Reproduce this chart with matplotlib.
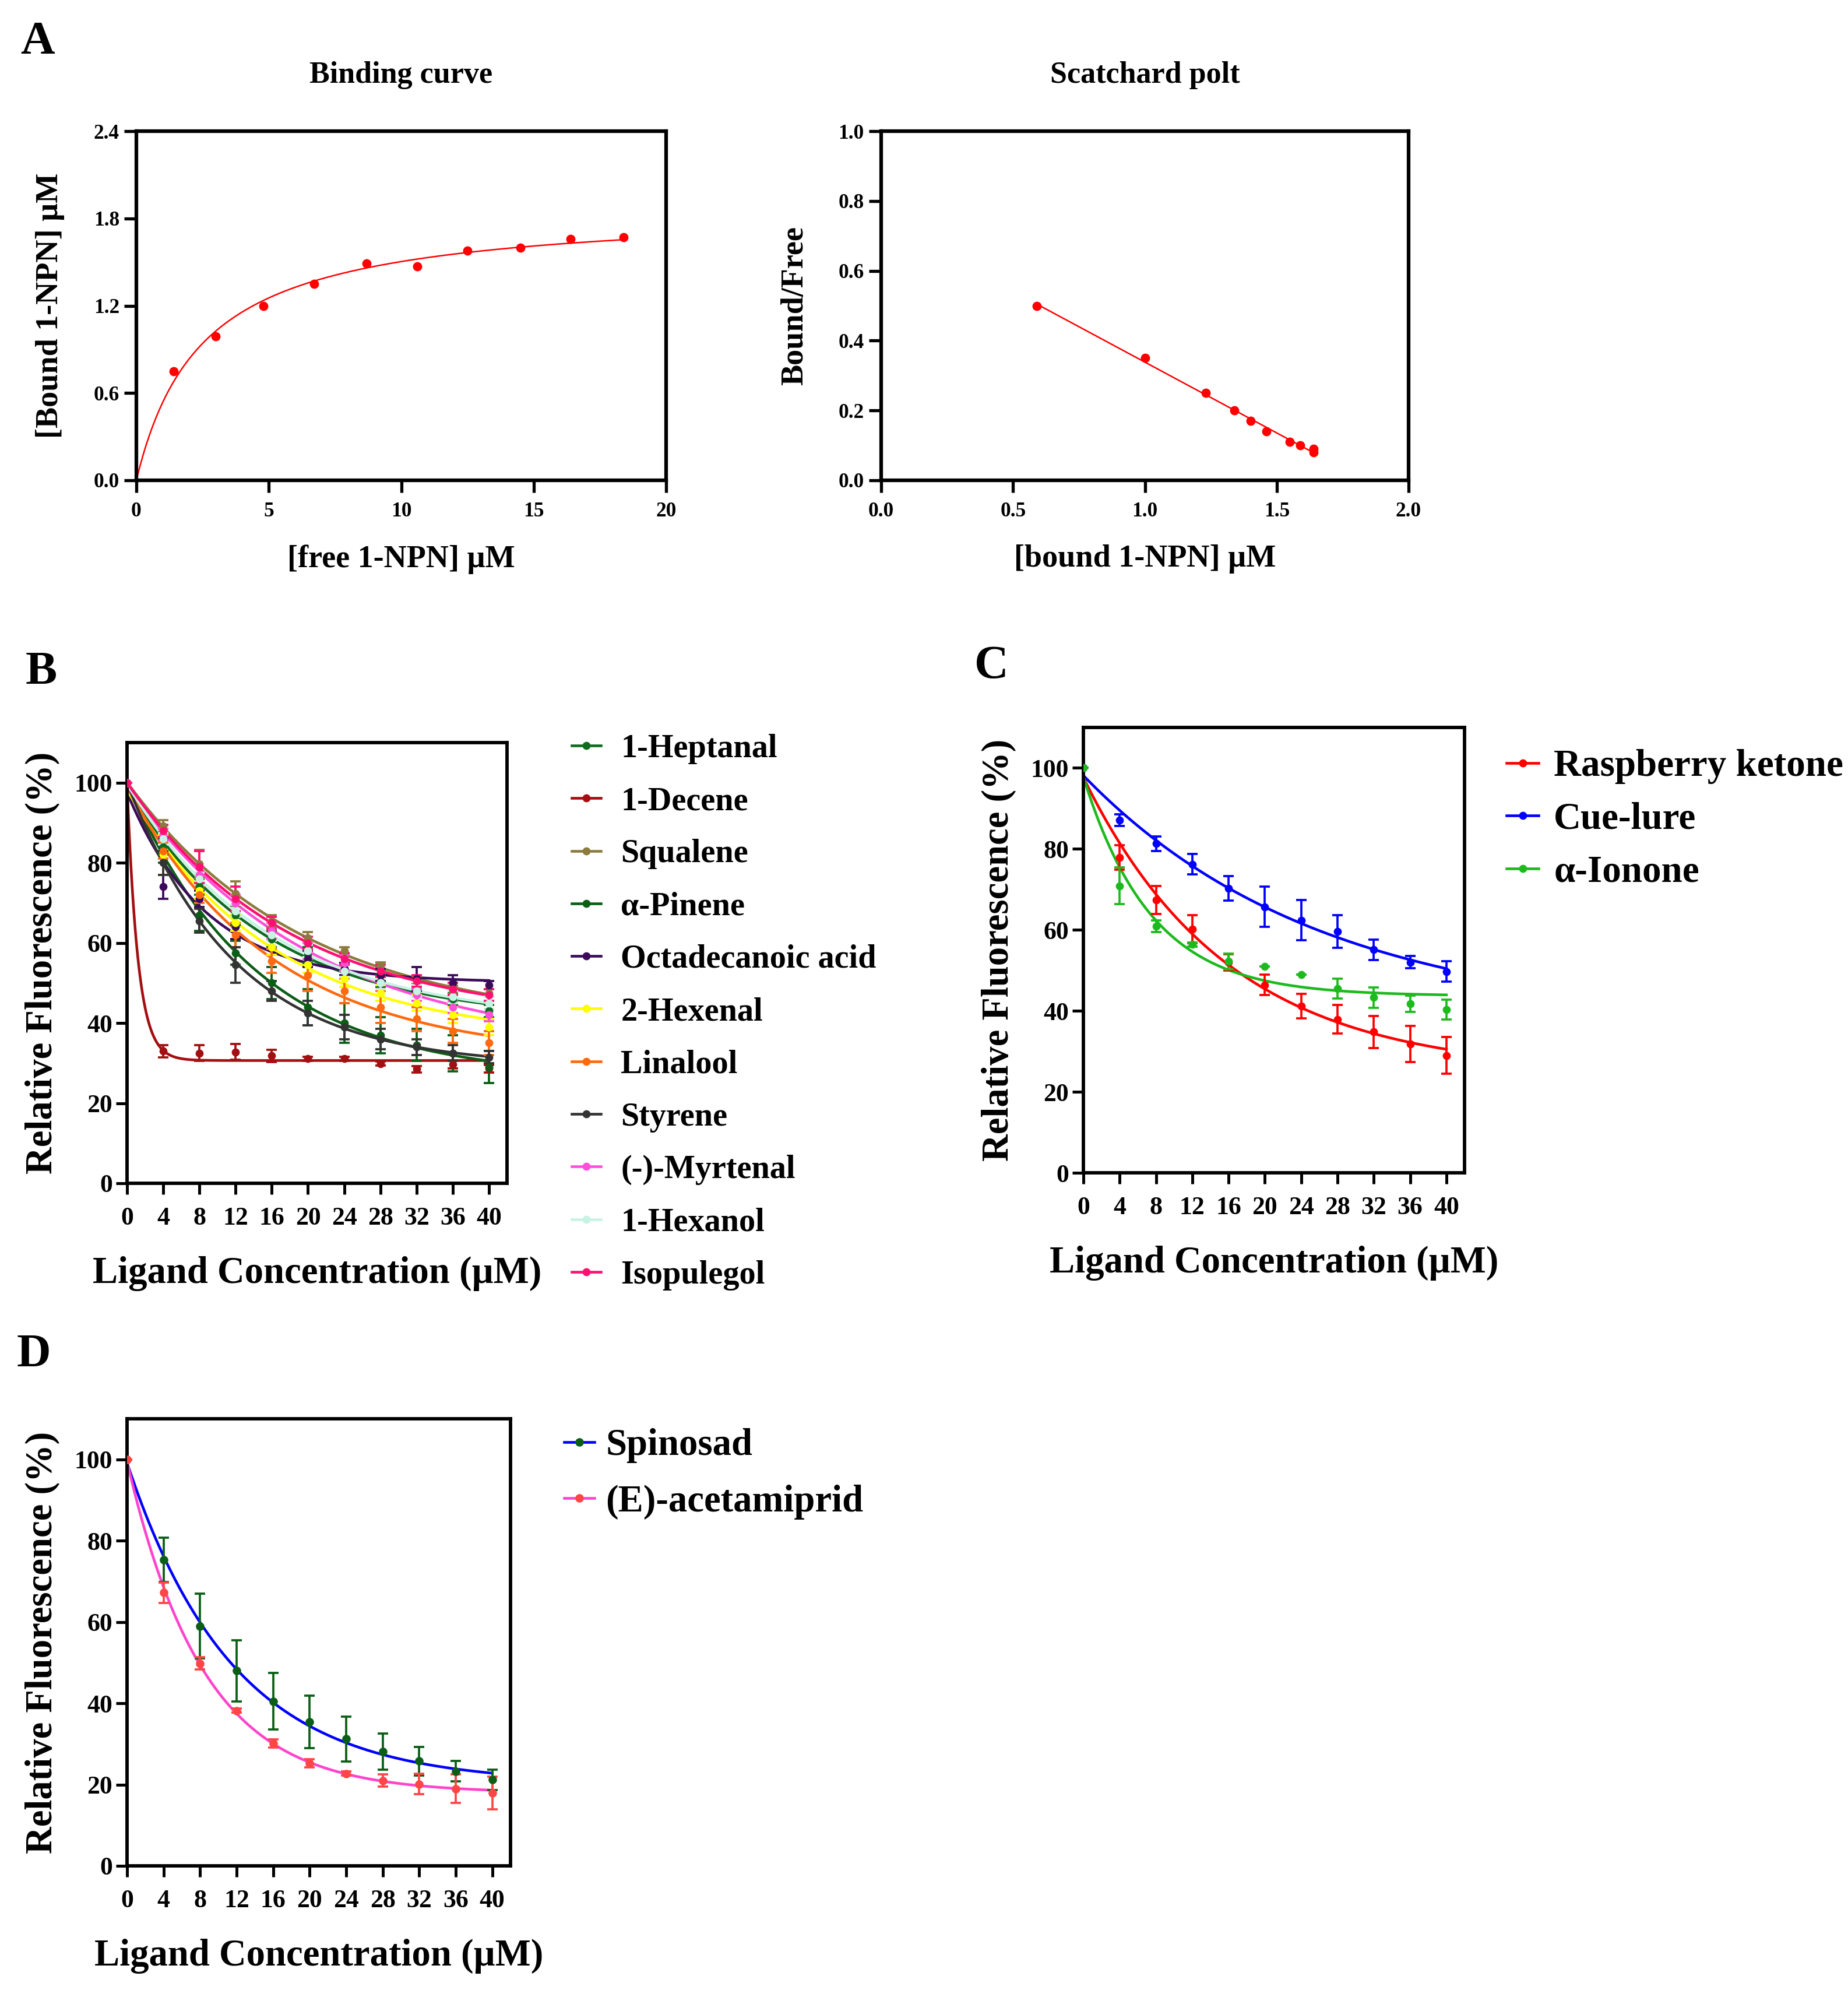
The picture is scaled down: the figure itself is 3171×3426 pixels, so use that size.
import numpy as np
import matplotlib
matplotlib.use("Agg")
import matplotlib.pyplot as plt
from matplotlib.lines import Line2D

plt.rcParams['font.family'] = ['Liberation Serif', 'DejaVu Serif']
plt.rcParams['font.weight'] = 'bold'
plt.rcParams['axes.labelweight'] = 'bold'
plt.rcParams['axes.titleweight'] = 'bold'

# -------------------------------
# Panel A data
# -------------------------------
free_npn = [1.4, 3.0, 4.8, 6.7, 8.7, 10.6, 12.5, 14.5, 16.4, 18.4]
bound_npn = [0.75, 0.99, 1.20, 1.35, 1.49, 1.47, 1.58, 1.60, 1.66, 1.67]

sc_bound = [0.59, 1.00, 1.23, 1.34, 1.40, 1.46, 1.55, 1.59, 1.64, 1.64]
sc_ratio = [0.50, 0.35, 0.25, 0.20, 0.17, 0.14, 0.11, 0.10, 0.09, 0.08]

# -------------------------------
# Competitive binding data (B, C, D)
# -------------------------------
conc = [0, 4, 8, 12, 16, 20, 24, 28, 32, 36, 40]

heptanal = [100, 84, 74, 67, 61, 57, 53.5, 50.5, 48, 46, 43]
heptanal_err = [0, 2, 2, 2.5, 2, 2, 1.5, 1.5, 1.5, 1.5, 1.5]
decene = [100, 33, 32.5, 32.8, 31.8, 31.1, 31.1, 29.9, 28.5, 29.7, 28.6]
decene_err = [0, 1.5, 2, 2, 1.5, 0.5, 0.5, 0.5, 0.8, 1, 1]
squalene = [100, 89.2, 79.7, 72.3, 65.4, 61.2, 58, 54.2, 50.7, 48.3, 47.5]
squalene_err = [0, 1.5, 3.5, 3, 1.5, 1.5, 1, 1, 1, 1, 1]
pinene = [100, 83, 67, 57.5, 50, 44, 40, 37, 34.5, 32.5, 29]
pinene_err = [0, 3, 4, 3, 4, 4.5, 5, 4.5, 4, 4.5, 4]
octadecanoic = [100, 74, 71, 64, 59, 56, 53.5, 52, 51, 50, 49.5]
octadecanoic_err = [0, 3, 2, 3, 2, 2, 1.5, 1.5, 3, 2, 1]
hexenal = [100, 82, 73, 65, 59, 54.5, 51, 47.5, 45, 42, 39]
hexenal_err = [0, 5, 2, 2, 2, 2, 2, 2, 2, 2, 2]
linalool = [100, 83, 72, 62, 55.5, 52, 48, 44, 41, 38, 35]
linalool_err = [0, 2, 2, 3, 3, 4, 3, 4, 3, 3, 3]
styrene = [100, 80, 65.5, 54.5, 48, 42.5, 39, 36, 34, 32.5, 31.5]
styrene_err = [0, 3, 3, 4.5, 2.5, 3, 3, 2.5, 2, 2, 1.5]
myrtenal = [100, 87, 77, 70, 63, 58, 55, 50, 47, 44, 42]
myrtenal_err = [0, 1.5, 2, 2, 2, 2, 2, 1.5, 1.5, 1.5, 1.5]
hexanol = [100, 86, 76, 68, 62, 58, 53, 50, 48, 46.5, 45]
hexanol_err = [0, 1.5, 1.5, 1.5, 1.5, 1.5, 1.5, 1.5, 1.5, 1.5, 1.5]
isopulegol = [100, 88, 79, 71, 65, 60, 56, 53, 50.5, 48.5, 47]
isopulegol_err = [0, 1.5, 4, 3, 1.5, 1.5, 1.5, 1.5, 1.5, 1.5, 1.5]

b_names = ["1-Heptanal", "1-Decene", "Squalene", "\u03b1-Pinene", "Octadecanoic acid",
           "2-Hexenal", "Linalool", "Styrene", "(-)-Myrtenal", "1-Hexanol", "Isopulegol"]
b_colors = ["#0F6B1F", "#A30F12", "#8C7B3C", "#0B5E16", "#3B0B5A",
            "#FFFF00", "#FF6A10", "#333333", "#FF4FD8", "#C6F3E4", "#FF1070"]
b_values = [heptanal, decene, squalene, pinene, octadecanoic,
            hexenal, linalool, styrene, myrtenal, hexanol, isopulegol]
b_errors = [heptanal_err, decene_err, squalene_err, pinene_err, octadecanoic_err,
            hexenal_err, linalool_err, styrene_err, myrtenal_err, hexanol_err, isopulegol_err]

raspberry = [100, 77.9, 67.4, 60.2, 52, 46.4, 41.2, 37.9, 34.8, 31.8, 29]
raspberry_err = [0, 3, 3.5, 3.5, 2, 2.5, 3, 3.5, 4, 4.5, 4.5]
cuelure = [100, 87.1, 81.3, 76.2, 70.3, 65.7, 62.4, 59.6, 55.1, 52, 49.7]
cuelure_err = [0, 1.5, 1.8, 2.5, 3, 5, 5, 4, 2.5, 1.5, 2.5]
ionone = [100, 70.9, 60.9, 56.4, 52.2, 51, 48.9, 45.5, 43.3, 41.7, 40.3]
ionone_err = [0, 4.5, 1.5, 0.5, 2, 0, 0, 2.5, 2.5, 2, 2.5]

c_names = ["Raspberry ketone", "Cue-lure", "\u03b1-Ionone"]
c_colors = ["#FF0000", "#0000FF", "#1DBA1D"]
c_values = [raspberry, cuelure, ionone]
c_errors = [raspberry_err, cuelure_err, ionone_err]

spinosad = [100, 75.3, 59, 48, 40.5, 35.4, 31.2, 28.1, 25.8, 23.3, 21.2]
spinosad_err = [0, 5.5, 8, 7.5, 7, 6.5, 5.5, 4.5, 3.5, 2.5, 2.5]
acetamiprid = [100, 67.2, 49.8, 38.2, 30.1, 25.2, 22.7, 21, 20.1, 19, 17.9]
acetamiprid_err = [0, 2.5, 1.5, 0.5, 1, 1, 0.5, 1.5, 2.5, 3.5, 4]

d_names = ["Spinosad", "(E)-acetamiprid"]
d_point_colors = ["#0B5E16", "#FF4646"]
d_line_colors = ["#0000FF", "#FF44CC"]
d_values = [spinosad, acetamiprid]
d_errors = [spinosad_err, acetamiprid_err]


# -------------------------------
# Curve fitting helpers (numpy only)
# -------------------------------
def fit_decay(x, y):
    # one-phase decay: plateau + span * exp(-k x)
    x = np.asarray(x, float)
    y = np.asarray(y, float)
    best = None
    for k in np.logspace(-3, 0.7, 2500):
        A = np.column_stack([np.ones_like(x), np.exp(-k * x)])
        coef = np.linalg.lstsq(A, y, rcond=None)[0]
        sse = np.sum((A @ coef - y) ** 2)
        if best is None or sse < best[0]:
            best = (sse, coef[0], coef[1], k)
    return best[1], best[2], best[3]


def fit_binding(x, y):
    # one-site saturation: Bmax * x / (Kd + x)
    x = np.asarray(x, float)
    y = np.asarray(y, float)
    best = None
    for kd in np.linspace(0.1, 20, 4000):
        f = x / (kd + x)
        bmax = np.sum(f * y) / np.sum(f * f)
        sse = np.sum((bmax * f - y) ** 2)
        if best is None or sse < best[0]:
            best = (sse, bmax, kd)
    return best[1], best[2]


def style_axes(ax, spine_w, tick_size, length, xpad, ypad):
    for s in ax.spines.values():
        s.set_linewidth(spine_w)
        s.set_color("black")
    ax.tick_params(direction="out", width=spine_w * 0.85, length=length,
                   labelsize=tick_size)
    ax.tick_params(axis="x", pad=xpad)
    ax.tick_params(axis="y", pad=ypad)


W, H = 3171, 3426
fig = plt.figure(figsize=(W / 300, H / 300), dpi=300)


def add_axes_px(x0, y0, x1, y1):
    return fig.add_axes([x0 / W, 1 - y1 / H, (x1 - x0) / W, (y1 - y0) / H])


# -------------------------------
# A - binding curve
# -------------------------------
ax1 = add_axes_px(234, 225, 1143, 824)
bmax, kd = fit_binding(free_npn, bound_npn)
xs = np.linspace(0, max(free_npn), 300)
ax1.plot(xs, bmax * xs / (kd + xs), color="#FF0000", lw=0.6)
ax1.plot(free_npn, bound_npn, "o", color="#FF0000", ms=3.8, mec="none")
ax1.set_xlim(0, 20)
ax1.set_ylim(0, 2.4)
ax1.set_xticks([0, 5, 10, 15, 20])
ax1.set_yticks([0, 0.6, 1.2, 1.8, 2.4])
ax1.set_yticklabels(["0.0", "0.6", "1.2", "1.8", "2.4"])
style_axes(ax1, 1.5, 8.5, 5, 4, 2)
ax1.set_title("Binding curve", fontsize=12.5, pad=20)
ax1.set_xlabel("[free 1-NPN] \u00b5M", fontsize=13, labelpad=9.5)
ax1.set_ylabel("[Bound 1-NPN] \u00b5M", fontsize=13, labelpad=12)

# -------------------------------
# A - Scatchard plot
# -------------------------------
ax2 = add_axes_px(1512, 225, 2417, 824)
slope, icpt = np.polyfit(sc_bound, sc_ratio, 1)
xl = np.array([min(sc_bound), max(sc_bound)])
ax2.plot(xl, slope * xl + icpt, color="#FF0000", lw=0.6)
ax2.plot(sc_bound, sc_ratio, "o", color="#FF0000", ms=3.8, mec="none")
ax2.set_xlim(0, 2)
ax2.set_ylim(0, 1)
ax2.set_xticks([0, 0.5, 1.0, 1.5, 2.0])
ax2.set_xticklabels(["0.0", "0.5", "1.0", "1.5", "2.0"])
ax2.set_yticks([0, 0.2, 0.4, 0.6, 0.8, 1.0])
ax2.set_yticklabels(["0.0", "0.2", "0.4", "0.6", "0.8", "1.0"])
style_axes(ax2, 1.5, 8.5, 5, 4, 2)
ax2.set_title("Scatchard polt", fontsize=12.5, pad=20)
ax2.set_xlabel("[bound 1-NPN] \u00b5M", fontsize=13, labelpad=9.5)
ax2.set_ylabel("Bound/Free", fontsize=13, labelpad=12)


def competition_axes(ax):
    ax.set_xlim(0, 42)
    ax.set_ylim(0, 110)
    ax.set_xticks(conc)
    ax.set_yticks([0, 20, 40, 60, 80, 100])
    style_axes(ax, 1.4, 10.5, 4.5, 5, 1.5)
    ax.set_xlabel("Ligand Concentration (\u00b5M)", fontsize=15.5, labelpad=11)
    ax.set_ylabel("Relative Fluorescence (%)", fontsize=15.5, labelpad=6)


xfit = np.linspace(0, 40, 400)

# -------------------------------
# B
# -------------------------------
axb = add_axes_px(218, 1274, 870, 2030)
handles = []
for name, col, vals, errs in zip(b_names, b_colors, b_values, b_errors):
    p, s, k = fit_decay(conc, vals)
    axb.plot(xfit, p + s * np.exp(-k * xfit), color=col, lw=1.1, zorder=2)
    axb.errorbar(conc, vals, yerr=errs, fmt="o", color=col, ms=3.3, mec="none",
                 elinewidth=0.9, capsize=2.2, capthick=0.9, zorder=3)
    handles.append(Line2D([], [], color=col, lw=1.1, marker="o", ms=3.3, mec="none"))
competition_axes(axb)
axb.legend(handles, b_names, loc="upper left", bbox_to_anchor=(1.17, 1.02),
           frameon=False, fontsize=13.5, handlelength=0.9, handletextpad=0.6,
           labelspacing=0.68, borderpad=0, borderaxespad=0)

# -------------------------------
# C
# -------------------------------
axc = add_axes_px(1859, 1248, 2513, 2012)
handles = []
for name, col, vals, errs in zip(c_names, c_colors, c_values, c_errors):
    p, s, k = fit_decay(conc, vals)
    axc.plot(xfit, p + s * np.exp(-k * xfit), color=col, lw=1.1, zorder=2)
    axc.errorbar(conc, vals, yerr=errs, fmt="o", color=col, ms=3.3, mec="none",
                 elinewidth=0.9, capsize=2.2, capthick=0.9, zorder=3)
    handles.append(Line2D([], [], color=col, lw=1.1, marker="o", ms=3.3, mec="none"))
competition_axes(axc)
axc.legend(handles, c_names, loc="upper left", bbox_to_anchor=(1.11, 0.951),
           frameon=False, fontsize=15.6, handlelength=0.85, handletextpad=0.4,
           labelspacing=0.47, borderpad=0, borderaxespad=0)

# -------------------------------
# D
# -------------------------------
axd = add_axes_px(218, 2434, 876, 3201)
handles = []
for name, pc, lc, vals, errs in zip(d_names, d_point_colors, d_line_colors, d_values, d_errors):
    p, s, k = fit_decay(conc, vals)
    axd.plot(xfit, p + s * np.exp(-k * xfit), color=lc, lw=1.1, zorder=2)
    axd.errorbar(conc, vals, yerr=errs, fmt="o", color=pc, ms=3.5, mec="none",
                 elinewidth=0.9, capsize=2.2, capthick=0.9, zorder=3)
    handles.append(Line2D([], [], color=lc, lw=1.1, marker="o", ms=3.5,
                          mfc=pc, mec="none"))
competition_axes(axd)
axd.legend(handles, d_names, loc="upper left", bbox_to_anchor=(1.14, 0.979),
           frameon=False, fontsize=15.5, handlelength=0.8, handletextpad=0.3,
           labelspacing=0.57, borderpad=0, borderaxespad=0)

# panel letters (x centre, baseline)
for letter, (px, py) in zip("ABCD", [(65, 92), (71, 1173), (1701, 1163), (58, 2344)]):
    fig.text(px / W, 1 - py / H, letter, fontsize=19.5, ha="center", va="baseline")

fig.savefig("out.png", dpi=300)
